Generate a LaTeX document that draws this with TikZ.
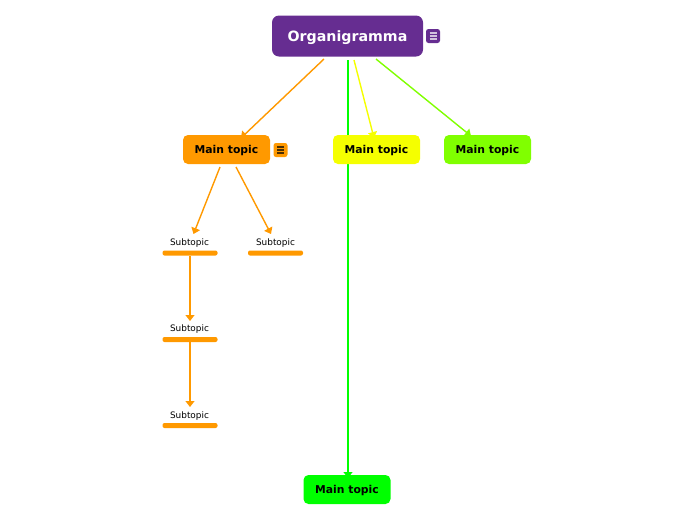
\documentclass[tikz,border=0pt]{standalone}
\usepackage{fontspec}
\setmainfont{DejaVu Sans}
\usetikzlibrary{arrows.meta}
\definecolor{rootc}{HTML}{662D91}
\definecolor{orangec}{HTML}{FF9900}
\definecolor{yellowc}{HTML}{F5FF00}
\definecolor{limec}{HTML}{80FF00}
\definecolor{greenc}{HTML}{00FF00}
\tikzset{
  x=1pt,y=-1pt,
  box/.style={rounded corners=5pt,inner sep=0pt,minimum width=87pt,minimum height=29pt,text=black,text height=10pt,text depth=2pt,font=\fontsize{10.8}{13}\selectfont\bfseries},
  rootbox/.style={rounded corners=7pt,inner sep=0pt,minimum width=151pt,minimum height=41pt,fill=rootc,text=white,text height=14pt,text depth=2.5pt,font=\fontsize{14.2}{17}\selectfont\bfseries},
  sublabel/.style={inner sep=0pt,text=black,font=\fontsize{8.9}{11}\selectfont},
  subbar/.style={fill=orangec,rounded corners=2pt,inner sep=0pt,minimum width=55pt,minimum height=5pt},
  menubox/.style={rounded corners=2.5pt,inner sep=0pt,minimum width=14pt,minimum height=14pt},
  conn/.style={line width=1.4pt,-{Triangle[length=6pt,width=9pt]}},
  vconn/.style={line width=1.1pt,-{Triangle[length=6pt,width=9pt]}},
}
\begin{document}
\begin{tikzpicture}
\useasboundingbox (0,0) rectangle (696,520);
% connector anchors
\coordinate (r1) at (324,59);
\coordinate (r2) at (348,60);
\coordinate (r3) at (354,60);
\coordinate (r4) at (376,59);
\coordinate (e1) at (241,138);
\coordinate (e2) at (348,478);
\coordinate (e3) at (374,138);
\coordinate (e4) at (471,136);
\coordinate (m1) at (220,167);
\coordinate (m2) at (236,167);
\coordinate (f1) at (193.5,234);
\coordinate (f2) at (271,234);
\coordinate (s1) at (190,256);
\coordinate (f3) at (190,321);
\coordinate (s3) at (190,342);
\coordinate (f4) at (190,407);
% connectors
\draw[vconn,greenc] (r2) -- (e2);
\draw[conn,orangec] (r1) -- (e1);
\draw[conn,yellowc] (r3) -- (e3);
\draw[conn,limec] (r4) -- (e4);
\draw[conn,orangec] (m1) -- (f1);
\draw[conn,orangec] (m2) -- (f2);
\draw[vconn,orangec] (s1) -- (f3);
\draw[vconn,orangec] (s3) -- (f4);
% nodes
\node[rootbox] (root) at (347.5,36) {Organigramma};
\node[box,fill=orangec] (main1) at (226.5,149.5) {Main topic};
\node[box,fill=yellowc] (main2) at (376.5,149.5) {Main topic};
\node[box,fill=limec] (main3) at (487.5,149.5) {Main topic};
\node[box,fill=greenc] (main4) at (347,489.5) {Main topic};
\node[sublabel] (l1) at (189.5,243) {Subtopic};
\node[subbar] (b1) at (190,253) {};
\node[sublabel] (l2) at (275.5,243) {Subtopic};
\node[subbar] (b2) at (275.5,253) {};
\node[sublabel] (l3) at (189.5,329) {Subtopic};
\node[subbar] (b3) at (190,339.5) {};
\node[sublabel] (l4) at (189.5,416) {Subtopic};
\node[subbar] (b4) at (190,425.5) {};
% menu icons
\node[menubox,fill=rootc] (menu1) at (433,36) {};
\node[menubox,fill=orangec] (menu2) at (280.5,150) {};
\foreach \y in {33,36,39}{\draw[line width=1.4pt,white!70!rootc] (429.5,\y) -- (436.5,\y);}
\foreach \y in {147,150,153}{\draw[line width=1.4pt,black!70!orangec] (277,\y) -- (284,\y);}
\end{tikzpicture}
\end{document}
